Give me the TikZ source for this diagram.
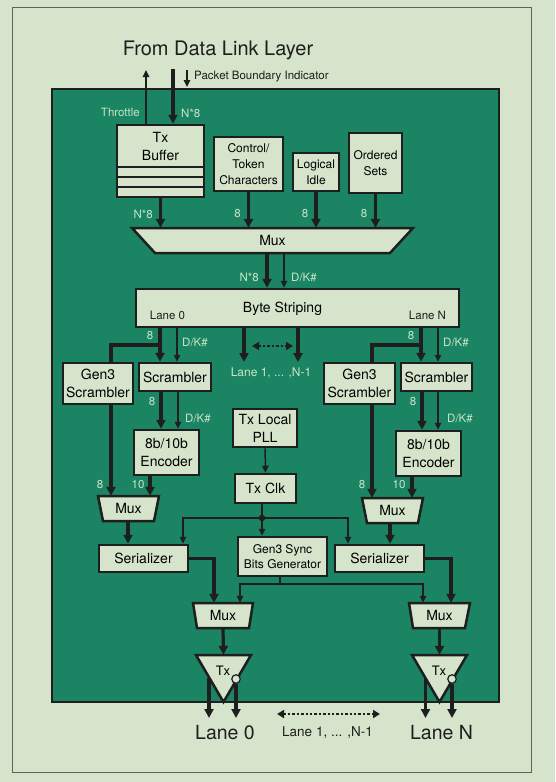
\documentclass[tikz,border=0pt]{standalone}
\usepackage{fontspec}
\setmainfont{TeX Gyre Heros}
\usepackage{xcolor}
\usetikzlibrary{arrows.meta,positioning}
\definecolor{pagebg}{RGB}{213,228,203}
\definecolor{boardgreen}{RGB}{27,132,98}
\definecolor{wirecol}{RGB}{30,30,30}
\definecolor{lblgreen}{RGB}{200,230,200}
\definecolor{framegray}{RGB}{90,100,88}
\tikzset{
  blk/.style={draw=wirecol, line width=2.5pt, fill=pagebg, align=center,
              inner sep=0pt, font=\fontsize{14}{18}\selectfont},
  blks/.style={blk, font=\fontsize{12}{16}\selectfont},
  muxfill/.style={draw=wirecol, line width=2.5pt, fill=pagebg, line join=miter},
  muxtxt/.style={inner sep=0pt, font=\fontsize{14}{16}\selectfont},
  bus/.style={draw=wirecol, line width=3.2pt, -{Triangle[length=9pt,width=9pt]}},
  buswire/.style={draw=wirecol, line width=3.2pt},
  sig/.style={draw=wirecol, line width=1.5pt, -{Triangle[length=7pt,width=6.5pt]}},
  wire/.style={draw=wirecol, line width=1.5pt},
  dotarrow/.style={draw=wirecol, line width=2.4pt, dotted,
                   {Triangle[length=7pt,width=8pt]}-{Triangle[length=7pt,width=8pt]}},
  lbl/.style={text=lblgreen, inner sep=0pt, font=\fontsize{11.5}{13}\selectfont},
  txt/.style={text=wirecol, inner sep=0pt, font=\fontsize{11.5}{13}\selectfont},
  dotnode/.style={circle, fill=wirecol, inner sep=0pt, minimum size=6.5pt},
  invnode/.style={circle, draw=wirecol, line width=1.2pt, fill=pagebg,
                  inner sep=0pt, minimum size=8.5pt}
}

\begin{document}
\begin{tikzpicture}[x=1pt,y=-1pt]
  \useasboundingbox (0,0) rectangle (555,782);
  \fill[pagebg] (0,0) rectangle (555,782);
  \draw[framegray, line width=1.3pt] (12.5,7.5) rectangle (531.5,772.5);
  \draw[wirecol, line width=2.5pt, fill=boardgreen] (52,89) rectangle (499,702);

  % data link layer side
  \node[text=wirecol, font=\fontsize{20}{24}\selectfont] (dll) at (218,50) {From Data Link Layer};
  \coordinate (thr) at (146,70);
  \coordinate (din) at (173,69);
  \coordinate (pbitop) at (187,70);
  \coordinate (pbibot) at (187,87);
  \node[lbl, anchor=east] (thrlab) at (140,112) {Throttle};
  \node[lbl, anchor=west] (dinlab) at (181,113) {N*8};
  \node[txt, anchor=west] (pbilab) at (194,77) {Packet Boundary Indicator};

  % tx buffer and symbol sources
  \node[blk, minimum width=87pt, minimum height=42pt] (buf) at (160.5,146) {Tx\\Buffer};
  \foreach \i/\yy in {1/172, 2/182, 3/192}
    \node[blk, minimum width=87pt, minimum height=10pt] (buf\i) at (160.5,\yy) {};
  \node[blks, minimum width=69pt, minimum height=54pt] (ctl) at (248.5,164) {Control/\\Token\\Characters};
  \node[blks, minimum width=46pt, minimum height=38pt] (idle) at (316,172) {Logical\\Idle};
  \node[blks, minimum width=53pt, minimum height=60pt] (oset) at (375.5,163) {Ordered\\Sets};

  \draw[sig] (buf.north -| thr) -- (thr);
  \draw[bus] (din) -- (buf.north -| din);
  \draw[sig] (pbitop) -- (pbibot);

  % main mux
  \draw[muxfill] (132,228) -- (413,228) -- (390,253) -- (155,253) -- cycle;
  \node[muxtxt, minimum width=235pt, minimum height=25pt] (mux) at (272.5,240.5) {Mux};
  \draw[bus] (buf3.south) -- (buf3.south |- mux.north);
  \draw[bus] (ctl.south) -- (ctl.south |- mux.north);
  \draw[bus] (idle.south) -- (idle.south |- mux.north);
  \draw[bus] (oset.south) -- (oset.south |- mux.north);
  \node[lbl, anchor=east] (buflab) at (153,214) {N*8};
  \node[lbl] (ctllab) at (237.5,214) {8};
  \node[lbl] (idlelab) at (305,214) {8};
  \node[lbl] (osetlab) at (364,214) {8};

  % byte striping
  \node[blk, minimum width=323pt, minimum height=38pt] (bs) at (297.5,308) {};
  \node[muxtxt] (bstxt) at (282.5,309) {Byte Striping};
  \node[txt] (bsl0) at (167.5,315) {Lane 0};
  \node[txt] (bsln) at (427.5,315) {Lane N};
  \draw[bus] (mux.south -| 267,0) -- (bs.north -| 267,0);
  \draw[sig] (mux.south -| 284,0) -- (bs.north -| 284,0);
  \node[lbl, anchor=east] (muxlab) at (259,277) {N*8};
  \node[lbl, anchor=west] (dklab) at (291,277) {D/K\#};

  % lane 0
  \node[blk, minimum width=70pt, minimum height=41pt] (gen0) at (98,383.5) {Gen3\\Scrambler};
  \node[blk, minimum width=72pt, minimum height=28pt] (scr0) at (175,377) {Scrambler};
  \node[blk, minimum width=65pt, minimum height=45pt] (enc0) at (166.5,452.5) {8b/10b\\Encoder};
  \draw[muxfill] (98,496) -- (159,496) -- (154,521) -- (103,521) -- cycle;
  \node[muxtxt, minimum width=51pt, minimum height=25pt] (lmux0) at (128.5,508.5) {Mux};
  \coordinate (br0) at (160,345);
  \draw[bus] (bs.south -| br0) -- (scr0.north -| br0);
  \draw[sig] (bs.south -| 177,0) -- (scr0.north -| 177,0);
  \draw[buswire] (br0) -| (gen0.north -| 111,0);
  \draw[bus] (scr0.south -| 161,0) -- (enc0.north -| 161,0);
  \draw[sig] (scr0.south -| 178,0) -- (enc0.north -| 178,0);
  \draw[bus] (gen0.south -| 111,0) -- (lmux0.north -| 111,0);
  \draw[bus] (enc0.south -| 150,0) -- (lmux0.north -| 150,0);
  \node[lbl] (l0a) at (150,336) {8};
  \node[lbl, anchor=west] (l0b) at (182,342) {D/K\#};
  \node[lbl] (l0c) at (152,402) {8};
  \node[lbl, anchor=west] (l0d) at (185,418) {D/K\#};
  \node[lbl] (l0e) at (100,485) {8};
  \node[lbl] (l0f) at (138,485) {10};

  % lanes 1 .. N-1
  \coordinate (mid1) at (244,362);
  \coordinate (mid2) at (298,362);
  \coordinate (midl) at (252,346);
  \coordinate (midr) at (293,346);
  \draw[bus] (bs.south -| mid1) -- (mid1);
  \draw[bus] (bs.south -| mid2) -- (mid2);
  \draw[dotarrow, line width=1.9pt] (midl) -- (midr);
  \node[lbl, font=\fontsize{12}{14}\selectfont] (midlab) at (271,373) {Lane 1, ... ,N-1};

  % lane N
  \node[blk, minimum width=71pt, minimum height=41pt] (genn) at (359.5,383.5) {Gen3\\Scrambler};
  \node[blk, minimum width=71pt, minimum height=28pt] (scrn) at (436.5,377) {Scrambler};
  \node[blk, minimum width=65pt, minimum height=45pt] (encn) at (428.5,453.5) {8b/10b\\Encoder};
  \draw[muxfill] (362,498) -- (423,498) -- (418,523) -- (367,523) -- cycle;
  \node[muxtxt, minimum width=51pt, minimum height=25pt] (lmuxn) at (392.5,510.5) {Mux};
  \coordinate (brn) at (421,345);
  \draw[bus] (bs.south -| brn) -- (scrn.north -| brn);
  \draw[sig] (bs.south -| 438,0) -- (scrn.north -| 438,0);
  \draw[buswire] (brn) -| (genn.north -| 372,0);
  \draw[bus] (scrn.south -| 422,0) -- (encn.north -| 422,0);
  \draw[sig] (scrn.south -| 438,0) -- (encn.north -| 438,0);
  \draw[bus] (genn.south -| 372,0) -- (lmuxn.north -| 372,0);
  \draw[bus] (encn.south -| 412,0) -- (lmuxn.north -| 412,0);
  \node[lbl] (lna) at (411,336) {8};
  \node[lbl, anchor=west] (lnb) at (443,342) {D/K\#};
  \node[lbl] (lnc) at (413,402) {8};
  \node[lbl, anchor=west] (lnd) at (447,418) {D/K\#};
  \node[lbl] (lne) at (362,485) {8};
  \node[lbl] (lnf) at (399,485) {10};

  % clocking
  \node[blk, minimum width=64pt, minimum height=38pt] (pll) at (265,428) {Tx Local\\PLL};
  \node[blk, minimum width=61pt, minimum height=29pt] (clk) at (265.5,488.5) {Tx Clk};
  \node[dotnode] (cdot) at (262,518) {};
  \draw[sig] (pll) -- (clk);
  \draw[wire] (clk.south -| cdot) -- (cdot);

  % serializers and sync bits
  \node[blk, minimum width=89pt, minimum height=27pt] (ser0) at (143.5,558.5) {Serializer};
  \node[blks, minimum width=89pt, minimum height=39pt, font=\fontsize{12}{15}\selectfont] (sync) at (282.5,556.5) {Gen3 Sync\\Bits Generator};
  \node[blk, minimum width=89pt, minimum height=27pt] (sern) at (379.5,558.5) {Serializer};
  \draw[sig] (cdot) -| (ser0.north -| 183,0);
  \draw[sig] (cdot) -| (sern.north -| 348,0);
  \draw[sig] (cdot) -- (sync.north -| cdot);
  \draw[bus] (lmux0.south -| 128,0) -- (ser0.north -| 128,0);
  \draw[bus] (lmuxn.south -| 390,0) -- (sern.north -| 390,0);

  % output muxes
  \draw[muxfill] (193,603) -- (253,603) -- (249,628) -- (197,628) -- cycle;
  \node[muxtxt, minimum width=52pt, minimum height=25pt] (omux0) at (223,615.5) {Mux};
  \draw[muxfill] (409,603) -- (470,603) -- (465,628) -- (413,628) -- cycle;
  \node[muxtxt, minimum width=52pt, minimum height=25pt] (omuxn) at (439.5,615.5) {Mux};
  \coordinate (sj) at (280,584);
  \draw[bus] (ser0.east) -| (omux0.north -| 214,0);
  \draw[bus] (sern.east) -| (omuxn.north -| 451,0);
  \draw[wire] (sync.south -| sj) -- (sj);
  \draw[sig] (sj) -| (omux0.north -| 240,0);
  \draw[sig] (sj) -| (omuxn.north -| 423,0);

  % transmitters
  \draw[muxfill] (196,655) -- (251,655) -- (223.5,702) -- cycle;
  \node[inner sep=0pt, minimum width=55pt, minimum height=47pt] (tx0) at (223.5,678.5) {};
  \node[muxtxt, font=\fontsize{13}{15}\selectfont] (tx0txt) at (223,671) {Tx};
  \draw[muxfill] (412,655) -- (467,655) -- (439.5,702) -- cycle;
  \node[inner sep=0pt, minimum width=55pt, minimum height=47pt] (txn) at (439.5,678.5) {};
  \node[muxtxt, font=\fontsize{13}{15}\selectfont] (txntxt) at (439,671) {Tx};
  \draw[bus] (omux0.south) -- (tx0.north);
  \draw[bus] (omuxn.south) -- (txn.north);

  \coordinate (o0p) at (209,678);
  \coordinate (o0pe) at (209,718);
  \coordinate (o0ne) at (236,718);
  \coordinate (onp) at (425.5,678);
  \coordinate (onpe) at (425.5,718);
  \coordinate (onne) at (452,718);
  \draw[bus] (o0p) -- (o0pe);
  \draw[bus] (onp) -- (onpe);
  \node[invnode] (inv0) at (236,679) {};
  \node[invnode] (invn) at (452,679) {};
  \draw[bus] (inv0.south) -- (o0ne);
  \draw[bus] (invn.south) -- (onne);

  % lane names
  \node[text=wirecol, inner sep=0pt, font=\fontsize{19.5}{22}\selectfont] (lane0) at (225,733) {Lane 0};
  \node[text=wirecol, inner sep=0pt, font=\fontsize{19.5}{22}\selectfont] (lanen) at (441.5,733) {Lane N};
  \node[txt, font=\fontsize{13.5}{15}\selectfont] (lanemid) at (327.5,733) {Lane 1, ... ,N-1};
  \coordinate (botl) at (277,714);
  \coordinate (botr) at (380,714);
  \draw[dotarrow] (botl) -- (botr);
\end{tikzpicture}
\end{document}
